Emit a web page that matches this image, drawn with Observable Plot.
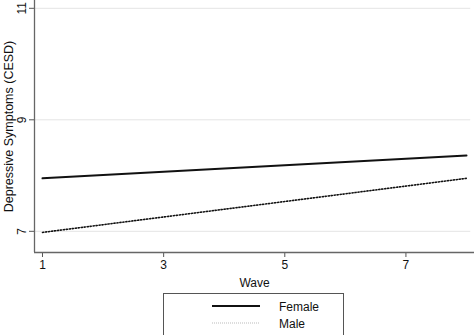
<!DOCTYPE html>
<html><head><meta charset="utf-8">
<script src="https://cdn.jsdelivr.net/npm/d3@7"></script>
<script src="https://cdn.jsdelivr.net/npm/@observablehq/plot@0.6"></script>
<style>
body{margin:0;background:#fff;font-family:"Liberation Sans",Arial,sans-serif;}
#wrap{position:relative;width:474px;height:335px;overflow:hidden;}
#legend{position:absolute;left:163px;top:293px;width:181px;height:50px;border:1px solid #555;box-sizing:border-box;background:#fff;}
</style></head>
<body><div id="wrap"><div id="chart"></div><div id="legend"></div></div>
<script>
const waves = [1, 8];
const female = [7.95, 8.36];
const male = [6.98, 7.95];
const series = ["Female", "Male"];
const xTicks = [1, 3, 5, 7];
const yTicks = [7, 9, 11];

const data = [];
waves.forEach((w, i) => {
  data.push({wave: w, value: female[i], sex: series[0]});
  data.push({wave: w, value: male[i], sex: series[1]});
});

const chart = Plot.plot({
  width: 474, height: 290,
  marginLeft: 34, marginRight: 0, marginTop: 0, marginBottom: 38,
  style: {fontFamily: "Liberation Sans, Arial, sans-serif", fontSize: "12px", color: "#111"},
  x: {domain: [0.868, 8.132]},
  y: {domain: [6.62, 11.14]},
  marks: [
    Plot.ruleY(yTicks, {stroke: "#e4e4e4", strokeWidth: 1, x1: 0.868, x2: 8.07}),
    Plot.axisX({ticks: xTicks, tickFormat: "d", tickSize: 5, tickPadding: 3, label: "Wave", labelAnchor: "center", labelArrow: "none", labelOffset: 34, stroke: "#555", fontSize: 12}),
    Plot.axisY({ticks: yTicks, tickFormat: () => "", tickSize: 5, label: "Depressive Symptoms (CESD)", labelAnchor: "center", labelArrow: "none", labelOffset: 30, stroke: "#555", fontSize: 12.5}),
    Plot.text(yTicks, {x: () => 0.67, y: d => d, text: d => String(d), rotate: -90, textAnchor: "middle", lineAnchor: "middle", fontSize: 12, fill: "#111", clip: false}),
    Plot.ruleX([0.868], {stroke: "#666", strokeWidth: 1.3}),
    Plot.ruleY([6.62], {stroke: "#666", strokeWidth: 1.3}),
    Plot.line(data.filter(d => d.sex === "Female"), {x: "wave", y: "value", stroke: "#111", strokeWidth: 2}),
    Plot.line(data.filter(d => d.sex === "Male"), {x: "wave", y: "value", stroke: "#111", strokeWidth: 1.6, strokeDasharray: "1.2,1.8"})
  ]
});
document.getElementById("chart").appendChild(chart);

const lg = d3.select("#legend").append("svg").attr("width", 181).attr("height", 50);
const rows = [{name: series[0], stroke: "#111", w: 2, dash: null}, {name: series[1], stroke: "#bbb", w: 1, dash: "1,1"}];
rows.forEach((r, i) => {
  const y = 12 + i * 17;
  lg.append("line").attr("x1", 48).attr("x2", 96).attr("y1", y).attr("y2", y)
    .attr("stroke", r.stroke).attr("stroke-width", r.w).attr("stroke-dasharray", r.dash);
  lg.append("text").attr("x", 115).attr("y", y + 4.5).attr("font-size", 12).attr("fill", "#111").text(r.name);
});
</script></body></html>
